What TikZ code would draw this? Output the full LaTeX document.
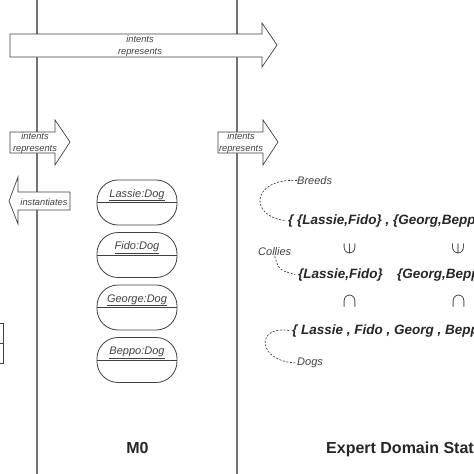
\documentclass[tikz,border=0pt]{standalone}
\usepackage{fontspec}
\setmainfont{Liberation Sans}
\usetikzlibrary{positioning}
\definecolor{linegray}{gray}{0.45}
\definecolor{inkgray}{gray}{0.25}
\tikzset{
  lifeline/.style={linegray,line width=1.4pt},
  blockarrow/.style={draw=inkgray,fill=white,line width=0.7pt,line join=miter},
  arrowtext/.style={font=\fontsize{9.3}{11.5}\selectfont\itshape,text=inkgray,align=center,inner sep=0pt},
  dogobj/.style={draw=inkgray,fill=white,line width=0.8pt,rounded corners=21pt,minimum width=80pt,minimum height=45pt,inner sep=0pt},
  objname/.style={font=\fontsize{11}{13}\selectfont\itshape,text=inkgray,inner sep=0pt,anchor=base},
  setrow/.style={font=\fontsize{13.5}{16}\selectfont\bfseries\itshape,text=black!85,anchor=base west,inner sep=0pt},
  setlabel/.style={font=\fontsize{11}{13}\selectfont\itshape,text=inkgray,inner sep=0pt,anchor=west},
  relsym/.style={text=black!85,inner sep=0pt},
  setlink/.style={inkgray,dashed,dash pattern=on 2pt off 1.6pt,line width=0.7pt},
  levelname/.style={font=\fontsize{16}{18}\selectfont\bfseries,text=black!85,inner sep=0pt,anchor=base}
}
\begin{document}
\begin{tikzpicture}[x=1pt,y=-1pt]
\useasboundingbox (0,0) rectangle (474,474);
% the two level borders
\draw[lifeline](37,0)--(37,474);
\draw[lifeline](237,0)--(237,474);
% long arrow across the levels
\draw[blockarrow](10,34)--(262,34)--(262,23)--(277,45)--(262,67)--(262,57)--(10,57)--cycle;
\node[arrowtext](topRep) at (140,46){intents\\represents};
% short arrows
\draw[blockarrow](10,132)--(55,132)--(55,120)--(70,142)--(55,165)--(55,153)--(10,153)--cycle;
\node[arrowtext](leftRep) at (35,143){intents\\represents};
\draw[blockarrow](218,132)--(263,132)--(263,120)--(278,142)--(263,165)--(263,153)--(218,153)--cycle;
\node[arrowtext](rightRep) at (241,143){intents\\represents};
\draw[blockarrow](70,192)--(18,192)--(18,177)--(9,201)--(18,224)--(18,210)--(70,210)--cycle;
\node[arrowtext](instOf) at (44,202){instantiates};
% cut-off object at the left edge
\node[draw=inkgray,line width=0.7pt,minimum width=20pt,minimum height=40pt,anchor=east](leftObj) at (4,343){};
\draw[inkgray,line width=0.7pt](leftObj.west)--(leftObj.east);
% the dogs of M0
\node[dogobj](lassie) at (137,202.5){};
\draw[inkgray,line width=0.8pt](lassie.west)--(lassie.east);
\node[objname](lassieName) at ([yshift=5.5pt]lassie.center){\underline{Lassie:Dog}};
\node[dogobj](fido) at (137,255){};
\draw[inkgray,line width=0.8pt](fido.west)--(fido.east);
\node[objname](fidoName) at ([yshift=5.5pt]fido.center){\underline{Fido:Dog}};
\node[dogobj](george) at (137,307.5){};
\draw[inkgray,line width=0.8pt](george.west)--(george.east);
\node[objname](georgeName) at ([yshift=5.5pt]george.center){\underline{George:Dog}};
\node[dogobj](beppo) at (137,360){};
\draw[inkgray,line width=0.8pt](beppo.west)--(beppo.east);
\node[objname](beppoName) at ([yshift=5.5pt]beppo.center){\underline{Beppo:Dog}};
% expert domain state
\node[setrow](breedsSet) at (288,224){\{ \{Lassie,Fido\} , \{Georg,Beppo\} \}};
\node[setrow](colliesSet) at (298,278){\{Lassie,Fido\}};
\node[setrow](othersSet) at (397,278){\{Georg,Beppo\}};
\node[setrow](dogsSet) at (292,334){\{ Lassie , Fido , Georg , Beppo \}};
\node[relsym](elemA) at (349.5,249){\rotatebox{90}{\scalebox{2}{$\in$}}};
\node[relsym](elemB) at (458,249){\rotatebox{90}{\scalebox{2}{$\in$}}};
\node[relsym](subA) at (349.5,301){\rotatebox{-90}{\scalebox{2}{$\subset$}}};
\node[relsym](subB) at (458.5,301){\rotatebox{-90}{\scalebox{2}{$\subset$}}};
\node[setlabel](breeds) at (297,180.5){Breeds};
\node[setlabel](collies) at (258,252){Collies};
\node[setlabel](dogs) at (297,363){Dogs};
\draw[setlink](breeds.west)..controls(252,178)and(248,216)..([xshift=-3pt]breedsSet.west);
\draw[setlink](collies.south)..controls(279,270)..([xshift=-3pt]colliesSet.west);
\draw[setlink]([xshift=-3pt]dogsSet.west)..controls(255,325)and(257,362)..(dogs.west);
% level names
\node[levelname](levelM0) at (137.5,453){M0};
\node[levelname,anchor=base west](levelExpert) at (326,453){Expert Domain State};
\end{tikzpicture}
\end{document}
